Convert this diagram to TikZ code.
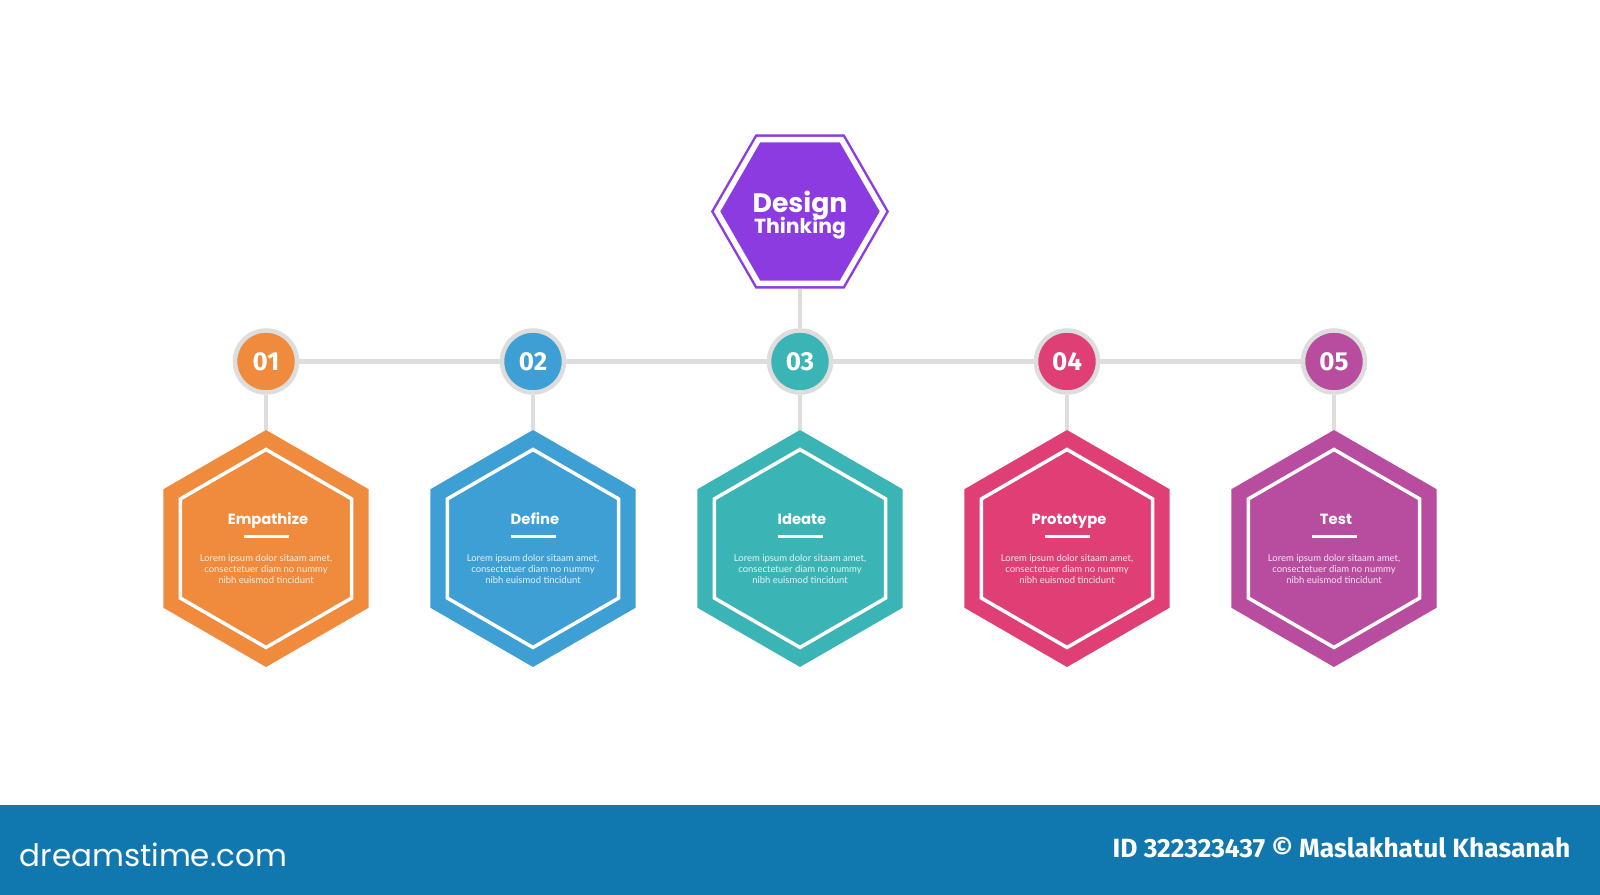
\documentclass[tikz,border=0pt]{standalone}
\usepackage{fontspec}
\setmainfont{Poppins}
\newfontfamily\numfont{Fira Sans}
\newfontfamily\bodyfont{Lato}
\usetikzlibrary{shapes.geometric,positioning}
\definecolor{dtpurple}{HTML}{8C3BE0}
\definecolor{dtorange}{HTML}{F08A3C}
\definecolor{dtblue}{HTML}{3E9FD4}
\definecolor{dtteal}{HTML}{3BB4B6}
\definecolor{dtpink}{HTML}{E03F76}
\definecolor{dtmagenta}{HTML}{B84C9F}
\definecolor{linkgray}{HTML}{DDDDDD}
\definecolor{bannerblue}{HTML}{1177AF}

\begin{document}
\begin{tikzpicture}[x=.1mm,y=.1mm,
    link/.style={draw=linkgray,line width=.45mm},
    hexa/.style={regular polygon,regular polygon sides=6,inner sep=0pt,outer sep=0pt},
    stephex/.style={hexa,shape border rotate=30,minimum size=23.7mm},
    numdot/.style={circle,draw=linkgray,line width=.45mm,minimum size=6.2mm,
      inner sep=0pt,text=white,font=\numfont\bfseries\fontsize{7.4}{8}\selectfont},
    steptitle/.style={anchor=base,text=white,font=\bfseries\fontsize{4.2}{5}\selectfont},
    stepbody/.style={align=center,inner sep=0pt,text=white,text opacity=.85,
      font=\bodyfont\fontsize{2.7}{3.13}\selectfont}]
  \useasboundingbox (0,0) rectangle (1600,895);
  % banner
  \fill[bannerblue] (0,0) rectangle (1600,90);
  \node[anchor=base west,inner sep=0pt,text=white,font=\fontsize{8.8}{9}\selectfont] (site) at (19,28) {dreamstime.com};
  \node[anchor=base east,inner sep=0pt,text=white,font=\numfont\bfseries\fontsize{7.5}{8}\selectfont] (credit) at (1571,37)
    {ID 322323437 © Maslakhatul Khasanah};
  % head
  \node[hexa,minimum size=17.8mm,fill=dtpurple] (head) at (800,683.5) {};
  \node[hexa,minimum size=16.6mm,draw=white,line width=.55mm] (head-in) at (head) {};
  \node[anchor=base,text=white,font=\bfseries\fontsize{7.6}{8}\selectfont] (head-a) at (800,682.5) {Design};
  \node[anchor=base,text=white,font=\bfseries\fontsize{5.8}{6}\selectfont] (head-b) at (800,661) {Thinking};
  % steps
  \foreach \ttl/\col [count=\i] in {Empathize/dtorange,Define/dtblue,Ideate/dtteal,Prototype/dtpink,Test/dtmagenta}{
    \node[numdot,fill=\col] (n\i) at ({266+267*(\i-1)},533.5) {0\i};
    \node[stephex,fill=\col] (h\i) at ({266+267*(\i-1)},346.5) {};
    \node[stephex,minimum size=19.8mm,draw=white,line width=.35mm] (h\i-in) at (h\i) {};
    \node[steptitle] (t\i) at ([xshift=.2mm,yshift=2.43mm]h\i.center) {\ttl};
    \draw[white,line width=.3mm] ([xshift=-2.25mm,yshift=1.2mm]h\i.center) -- ++(45,0);
    \node[stepbody] (b\i) at ([yshift=-2.07mm]h\i.center)
      {Lorem ipsum dolor sitaam amet,\\consectetuer diam no nummy\\nibh euismod tincidunt};
    \draw[link] (n\i) -- (h\i);
  }
  \foreach \i [count=\j from 2] in {1,...,4} \draw[link] (n\i) -- (n\j);
  \draw[link] (head) -- (n3);
\end{tikzpicture}
\end{document}
